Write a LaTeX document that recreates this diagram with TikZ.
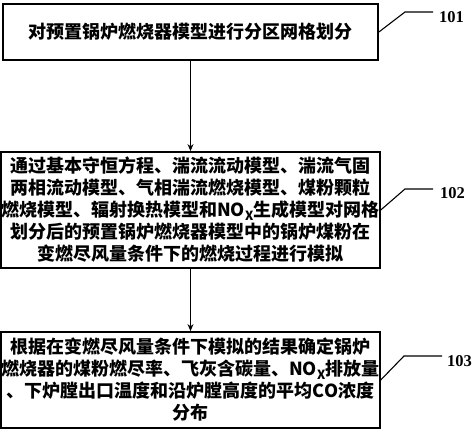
\documentclass[tikz,border=0pt]{standalone}
\usepackage{fontspec}
\newfontfamily\cjk{Noto Sans CJK SC}
\setmainfont{Liberation Serif}
\usetikzlibrary{arrows.meta}
\tikzset{
  stepbox/.style={draw, line width=1.8pt, minimum width=375pt, align=center, inner sep=0pt,
    font=\cjk\bfseries\fontsize{18}{22}\selectfont},
  flow/.style={line width=1pt, -{Stealth[length=7pt,width=6pt]}},
  leader/.style={line width=1.1pt},
  lab/.style={font=\bfseries\fontsize{16.5}{18}\selectfont, anchor=west, inner sep=0pt}
}
\begin{document}
\begin{tikzpicture}[x=1pt,y=1pt]
\useasboundingbox (0,0) rectangle (474,430);
\node[stepbox, minimum height=56pt] (b1) at (190.5,398) {对预置锅炉燃烧器模型进行分区网格划分};
\node[stepbox, minimum height=116pt] (b2) at (190.5,220) {通过基本守恒方程、湍流流动模型、湍流气固\\两相流动模型、气相湍流燃烧模型、煤粉颗粒\\燃烧模型、辐射换热模型和NO\textsubscript{X}生成模型对网格\\划分后的预置锅炉燃烧器模型中的锅炉煤粉在\\变燃尽风量条件下的燃烧过程进行模拟};
\node[stepbox, minimum height=96pt] (b3) at (190.5,50) {根据在变燃尽风量条件下模拟的结果确定锅炉\\燃烧器的煤粉燃尽率、飞灰含碳量、NO\textsubscript{X}排放量\\、下炉膛出口温度和沿炉膛高度的平均CO浓度\\分布};
\draw[flow] (b1.south) -- (b2.north);
\draw[flow] (b2.south) -- (b3.north);
\coordinate (k1) at (405,418);
\coordinate (e1) at (433,418);
\coordinate (k2) at (405,241);
\coordinate (e2) at (433,241);
\coordinate (k3) at (404,74);
\coordinate (e3) at (442,74);
\draw[leader] (b1.east) -- (k1) -- (e1);
\draw[leader] (b2.east) -- (k2) -- (e2);
\draw[leader] (b3.east) -- (k3) -- (e3);
\node[lab] (l1) at (439,413) {101};
\node[lab] (l2) at (440,237) {102};
\node[lab] (l3) at (447,69) {103};
\end{tikzpicture}
\end{document}
